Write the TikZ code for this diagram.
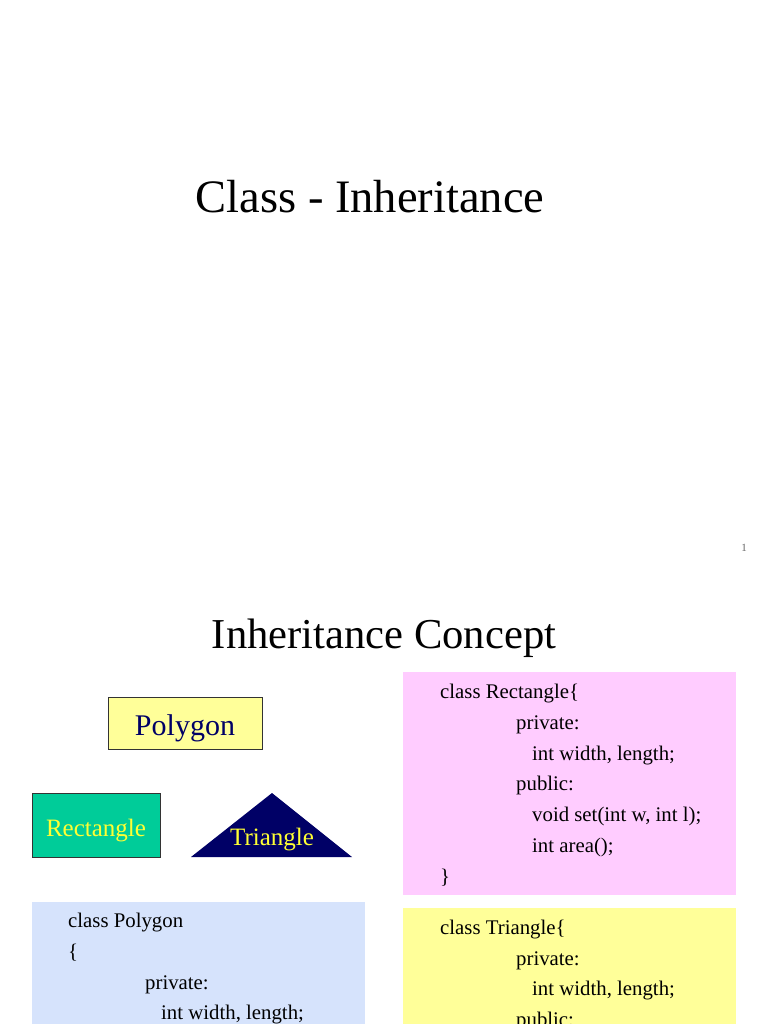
\documentclass[tikz,border=0pt]{standalone}
\usepackage{fontspec}
\setmainfont{Liberation Serif}
\definecolor{polyfill}{HTML}{FFFF99}
\definecolor{rectfill}{HTML}{00CC99}
\definecolor{navy}{HTML}{000066}
\definecolor{lblyellow}{HTML}{FFFF33}
\definecolor{pinkfill}{HTML}{FFCCFF}
\definecolor{bluefill}{HTML}{D6E3FC}
\definecolor{yelfill}{HTML}{FFFF99}
\tikzset{
  titletext/.style={anchor=base, inner sep=0pt, font=\fontsize{46.5}{50}\selectfont},
  codebox/.style={anchor=north west, inner sep=0pt, draw=none},
  codeline/.style={anchor=base west, inner sep=0pt, font=\fontsize{20.8}{24}\selectfont},
  shapebox/.style={draw=black!80, line width=0.8pt, inner sep=0pt},
  shapelabel/.style={anchor=base, inner sep=0pt, font=\fontsize{25}{28}\selectfont, text=lblyellow},
}
\begin{document}
\begin{tikzpicture}[x=1pt,y=-1pt]
\useasboundingbox (0,0) rectangle (768,1024);
\clip (0,0) rectangle (768,1024);
\fill[white] (0,0) rectangle (768,1024);

% slide 1
\node[titletext] (title1) at (370,213) {Class - Inheritance};
\node[anchor=base, inner sep=0pt, font=\fontsize{11}{12}\selectfont, text=black!60] (pagenum) at (744,551) {1};

% slide 2
\node[titletext, font=\fontsize{42.6}{46}\selectfont] (title2) at (384,648) {Inheritance Concept};

\node[shapebox, fill=polyfill, minimum width=154pt, minimum height=52pt] (polygonbox) at (185,723) {};
\node[anchor=base, inner sep=0pt, font=\fontsize{30}{32}\selectfont, text=navy] (polygon) at (185,735) {Polygon};

\node[shapebox, fill=rectfill, minimum width=128pt, minimum height=64pt] (rectanglebox) at (96,825) {};
\node[shapelabel] (rectangle) at (96,836) {Rectangle};

\coordinate (triA) at (191,857);
\coordinate (triB) at (272,793);
\coordinate (triC) at (352,857);
\fill[navy] (triA) -- (triB) -- (triC) -- cycle;
\node[shapelabel] (triangle) at (272,845) {Triangle};

% pink box: class Rectangle
\node[codebox, fill=pinkfill, minimum width=333pt, minimum height=223pt] (rectcode) at (403,672) {};
\node[codeline] (r1) at (440,698) {class Rectangle\{};
\node[codeline] (r2) at (516,729) {private:};
\node[codeline] (r3) at (532,760) {int width, length;};
\node[codeline] (r4) at (516,790) {public:};
\node[codeline] (r5) at (532,821) {void set(int w, int l);};
\node[codeline] (r6) at (532,852) {int area();};
\node[codeline] (r7) at (440,883) {\}};

% yellow box: class Triangle
\node[codebox, fill=yelfill, minimum width=333pt, minimum height=130pt] (tricode) at (403,908) {};
\node[codeline] (t1) at (440,934) {class Triangle\{};
\node[codeline] (t2) at (516,965) {private:};
\node[codeline] (t3) at (532,995) {int width, length;};
\node[codeline] (t4) at (516,1026) {public:};

% blue box: class Polygon
\node[codebox, fill=bluefill, minimum width=333pt, minimum height=136pt] (polycode) at (32,902) {};
\node[codeline] (p1) at (68,927) {class Polygon};
\node[codeline] (p2) at (68,958) {\{};
\node[codeline] (p3) at (145,989) {private:};
\node[codeline] (p4) at (161,1019) {int width, length;};
\end{tikzpicture}
\end{document}
